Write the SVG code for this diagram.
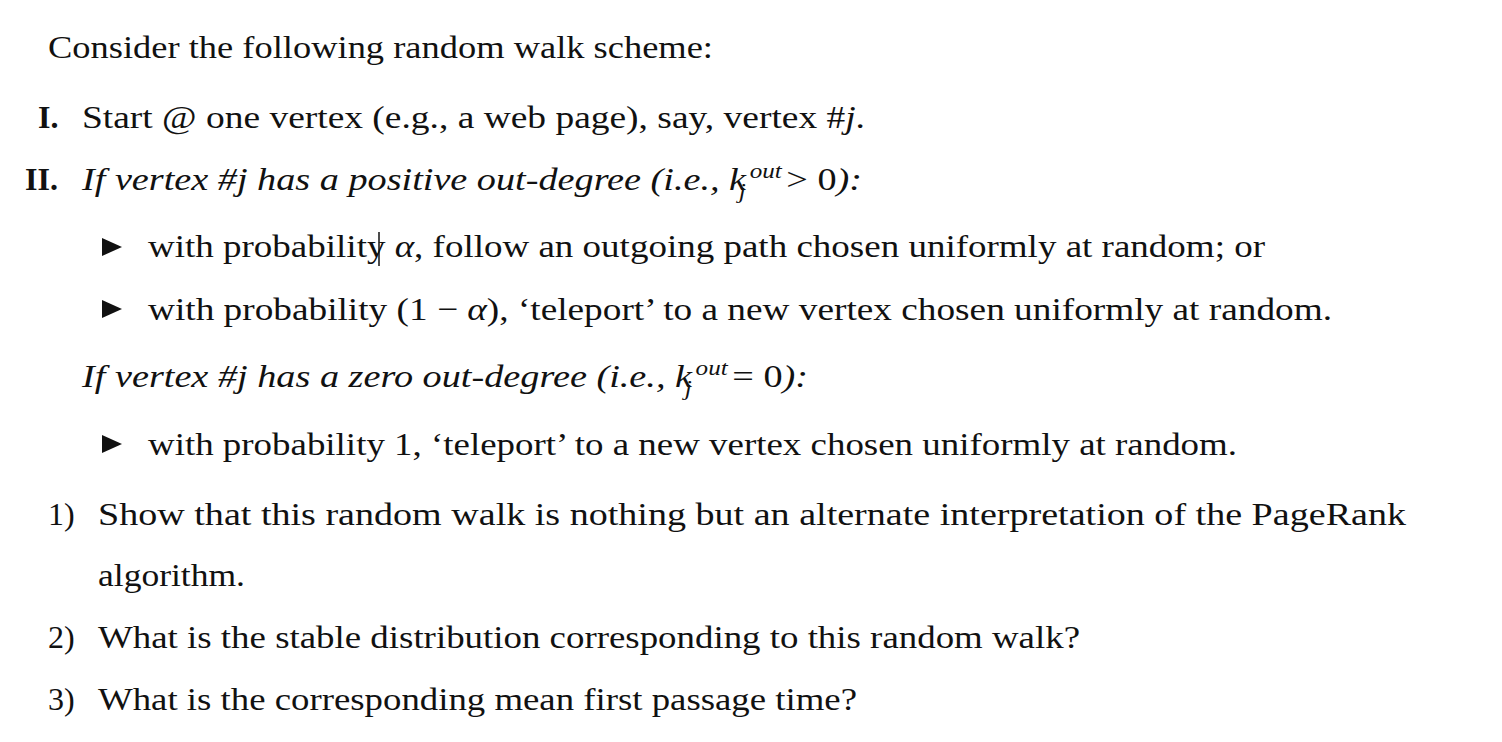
<svg xmlns="http://www.w3.org/2000/svg" width="1502" height="742" viewBox="0 0 1502 742">
<style>
text{font-family:"Liberation Serif","Times New Roman",serif;font-size:32px;fill:#111}
.b{font-weight:bold}
.i{font-style:italic}
.s{font-size:21px}
</style>
<rect width="1502" height="742" fill="#fff"/>
<g id="intro"><text x="48" y="58" textLength="665" lengthAdjust="spacingAndGlyphs">Consider the following random walk scheme:</text></g>
<g id="step1">
<text x="38" y="128" class="b">I.</text>
<text x="82" y="128" textLength="783" lengthAdjust="spacingAndGlyphs">Start @ one vertex (e.g., a web page), say, vertex #<tspan class="i">j</tspan>.</text>
</g>
<g id="step2">
<text x="25" y="190" class="b">II.</text>
<text x="82" y="190" class="i" textLength="780" lengthAdjust="spacingAndGlyphs">If vertex #j has a positive out-degree (i.e., k<tspan class="s" dx="3" dy="-12">out</tspan><tspan class="s" dx="-36" dy="20">j</tspan><tspan dy="-8" dx="26" font-style="normal"> &gt; 0</tspan>):</text>
<polygon points="102,238 122,247 102,256" fill="#111"/>
<text x="148" y="257" textLength="1117" lengthAdjust="spacingAndGlyphs">with probability <tspan class="i">α</tspan>, follow an outgoing path chosen uniformly at random; or</text>
<line x1="379" y1="232" x2="379" y2="266" stroke="#111" stroke-width="1.5"/>
<polygon points="102,300 122,309 102,318" fill="#111"/>
<text x="148" y="320" textLength="1184" lengthAdjust="spacingAndGlyphs">with probability (1 − <tspan class="i">α</tspan>), ‘teleport’ to a new vertex chosen uniformly at random.</text>
<text x="82" y="387" class="i" textLength="726" lengthAdjust="spacingAndGlyphs">If vertex #j has a zero out-degree (i.e., k<tspan class="s" dx="3" dy="-12">out</tspan><tspan class="s" dx="-36" dy="20">j</tspan><tspan dy="-8" dx="26" font-style="normal"> = 0</tspan>):</text>
<polygon points="102,435 122,444 102,453" fill="#111"/>
<text x="148" y="455" textLength="1089" lengthAdjust="spacingAndGlyphs">with probability 1, ‘teleport’ to a new vertex chosen uniformly at random.</text>
</g>
<g id="q1">
<text x="48" y="525">1)</text>
<text x="98" y="525" textLength="1308" lengthAdjust="spacingAndGlyphs">Show that this random walk is nothing but an alternate interpretation of the PageRank</text>
<text x="98" y="586" textLength="147" lengthAdjust="spacingAndGlyphs">algorithm.</text>
</g>
<g id="q2">
<text x="48" y="648">2)</text>
<text x="98" y="648" textLength="982" lengthAdjust="spacingAndGlyphs">What is the stable distribution corresponding to this random walk?</text>
</g>
<g id="q3">
<text x="48" y="710">3)</text>
<text x="98" y="710" textLength="759" lengthAdjust="spacingAndGlyphs">What is the corresponding mean first passage time?</text>
</g>
</svg>
